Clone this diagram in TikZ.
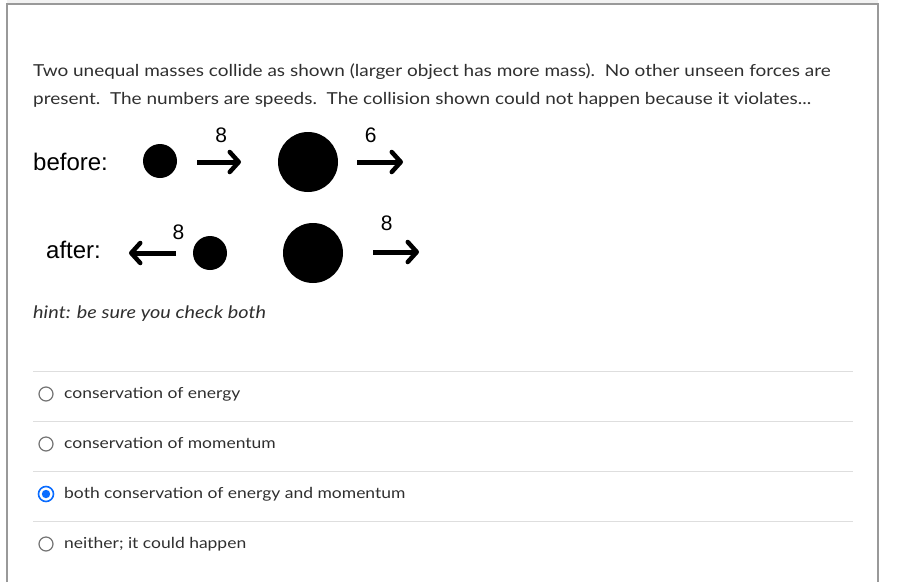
\documentclass[tikz,border=0pt]{standalone}
\usepackage{fontspec}
\setmainfont[FakeStretch=1.15]{Lato}
\newfontfamily\figfont{Liberation Sans}
\usetikzlibrary{arrows.meta,positioning}
\definecolor{txt}{HTML}{2F2F2F}
\definecolor{pick}{HTML}{0A6CFF}

\begin{document}
\begin{tikzpicture}[x=1pt,y=-1pt,
		ball/.style={circle,fill=black,inner sep=0pt},
		small/.style={ball,minimum size=34pt},
		big/.style={ball,minimum size=60pt},
		speed/.style={-{Straight Barb[length=9pt,width=20pt,line width=4.5pt,round]},line width=5pt},
		num/.style={font=\figfont\fontsize{21}{21}\selectfont,inner sep=0pt},
		tag/.style={font=\figfont\fontsize{24}{24}\selectfont,anchor=base west,inner sep=0pt},
		body/.style={anchor=base west,inner sep=0pt,text=txt,font=\fontsize{16.5}{18}\selectfont},
		answer/.style={body,font=\fontsize{15.2}{18}\selectfont},
		radio/.style={circle,draw=black!55,line width=1.2pt,minimum size=14pt,inner sep=0pt},
		chosen/.style={circle,draw=pick,fill=white,line width=1.6pt,minimum size=15pt,inner sep=0pt,
			path picture={\fill[pick] (path picture bounding box.center) circle (4.2pt);}},
		sep/.style={draw=black!13,line width=1pt},
		]
		\useasboundingbox (0,0) rectangle (913,582);
		% panel
		\fill[black!5] (7,0) rectangle (878,4);
		\draw[black!40,line width=1.5pt] (7,582) -- (7,4) -- (878,4) -- (878,582);
		% question
		\node[body] (q1) at (33,76) {Two unequal masses collide as shown (larger object has more mass).\ \ No other unseen forces are};
		\node[body] (q2) at (33,104) {present.\ \ The numbers are speeds.\ \ The collision shown could not happen because it violates...};
		% before
		\node[tag] (before) at (33,170) {before:};
		\node[small] (sb) at (160,161) {};
		\node[big] (bb) at (308,162) {};
		\coordinate (sbs) at (197,162);
		\coordinate (sbe) at (241,162);
		\coordinate (bbs) at (357,162);
		\coordinate (bbe) at (403,162);
		\draw[speed] (sbs) -- node[num,pos=0.55,above=17pt] {8} (sbe);
		\draw[speed] (bbs) -- node[num,pos=0.3,above=17pt] {6} (bbe);
		% after
		\node[tag] (after) at (46,258) {after:};
		\node[small] (sa) at (210,253) {};
		\node[big] (ba) at (313,253) {};
		\coordinate (sas) at (176,253);
		\coordinate (sae) at (129,253);
		\coordinate (bas) at (373,252);
		\coordinate (bae) at (419,252);
		\draw[speed] (sas) -- node[num,pos=-0.05,above=11pt] {8} (sae);
		\draw[speed] (bas) -- node[num,pos=0.3,above=19pt] {8} (bae);
		% hint
		\node[body,font=\itshape\fontsize{17.3}{18}\selectfont] (hint) at (33,318) {hint: be sure you check both};
		% answers
		\foreach \opt [count=\i] in {conservation of energy,conservation of momentum,both conservation of energy and momentum,{neither; it could happen}}
		{
			\draw[sep] (33,321+50*\i) -- (853,321+50*\i);
			\node[answer] (opt\i) at (64,348+50*\i) {\opt};
		}
		\foreach \i in {1,2,4}
			\node[radio] (r\i) at (46,344+50*\i) {};
		\node[chosen] (r3) at (46,494) {};
	\end{tikzpicture}
\end{document}
